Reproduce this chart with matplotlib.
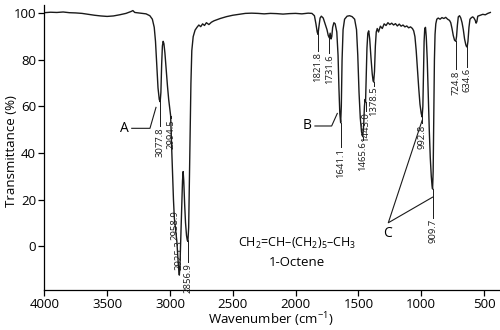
import numpy as np
import matplotlib
matplotlib.use("Agg")
import matplotlib.pyplot as plt

plt.rcParams['font.family'] = ['Open Sans', 'DejaVu Sans']
plt.rcParams['mathtext.fontset'] = 'custom'
plt.rcParams['mathtext.rm'] = 'Open Sans'
plt.rcParams['mathtext.it'] = 'Open Sans:italic'

# IR spectrum of 1-octene, (wavenumber cm-1, %T)
wavenumber = [
    4000, 3950, 3900, 3850, 3800, 3750, 3700, 3650, 3600, 3550, 3500, 3450,
    3400, 3350, 3310, 3295, 3280, 3250, 3220, 3190, 3160, 3140, 3125, 3115,
    3105, 3095, 3085, 3077.8, 3072, 3066, 3060, 3054, 3048, 3040, 3030, 3020,
    3010, 3000, 2994.5, 2988, 2980, 2972, 2965, 2958.9, 2952, 2945, 2938, 2932,
    2925.3, 2920, 2913, 2906, 2900, 2895, 2890, 2883, 2876, 2868, 2862, 2856.9,
    2851, 2846, 2840, 2833, 2826, 2815, 2800, 2785, 2770, 2755, 2740, 2725,
    2710, 2690, 2670, 2650, 2600, 2550, 2500, 2450, 2400, 2350, 2300, 2250,
    2200, 2150, 2100, 2050, 2000, 1950, 1900, 1870, 1850, 1838, 1828, 1821.8,
    1815, 1805, 1795, 1780, 1765, 1750, 1740, 1731.6, 1725, 1718, 1712, 1705,
    1695, 1685, 1672, 1662, 1655, 1648, 1641.1, 1636, 1630, 1622, 1610, 1590,
    1570, 1550, 1530, 1515, 1505, 1495, 1485, 1475, 1465.6, 1458, 1452, 1447,
    1443.0, 1438, 1432, 1425, 1418, 1410, 1400, 1390, 1383, 1378.5, 1372, 1365,
    1358, 1350, 1340, 1325, 1310, 1295, 1280, 1265, 1250, 1235, 1220, 1205,
    1190, 1175, 1160, 1145, 1130, 1115, 1100, 1085, 1070, 1060, 1050, 1040,
    1030, 1020, 1010, 1000, 992.8, 987, 982, 977, 972, 966, 960, 952,
    944, 936, 928, 920, 914, 909.7, 905, 900, 895, 890, 884, 876,
    865, 850, 835, 820, 805, 790, 775, 765, 755, 745, 735, 729,
    724.8, 719, 712, 705, 695, 685, 675, 665, 655, 645, 640, 634.6,
    628, 620, 612, 600, 590, 580, 570, 563, 557, 550, 530, 510,
    490, 470, 450,
]
transmittance = [
    100.3, 100.5, 100.4, 100.6, 100.3, 100.2, 100.0, 99.6, 99.2, 98.9, 98.7, 98.9,
    99.4, 100.0, 100.8, 101.2, 100.4, 100.2, 100.0, 99.8, 99.0, 97.5, 94.0, 88.0,
    78.0, 68.0, 63.0, 62.0, 66.0, 78.0, 86.0, 88.0, 87.0, 83.0, 76.0, 69.0,
    63.0, 58.5, 56.0, 45.0, 33.0, 20.0, 12.0, 9.0, 6.0, 2.0, -4.0, -9.0,
    -12.5, -8.0, 5.0, 18.0, 28.0, 32.0, 28.0, 18.0, 10.0, 4.5, 2.5, 2.0,
    8.0, 25.0, 48.0, 70.0, 84.0, 90.0, 92.8, 94.0, 95.0, 94.3, 95.5, 94.8,
    96.0, 95.2, 96.2, 96.8, 97.8, 98.6, 99.2, 99.6, 100.0, 100.1, 100.0, 99.8,
    100.0, 99.9, 99.7, 99.9, 100.0, 99.8, 100.1, 100.0, 99.0, 95.5, 92.0, 91.0,
    94.0, 98.0, 98.8, 98.0, 95.5, 93.0, 90.5, 89.5, 91.5, 89.0, 90.0, 94.0,
    96.0, 95.5, 92.0, 82.0, 68.0, 57.0, 53.0, 60.0, 80.0, 93.0, 97.5, 98.8,
    99.0, 98.6, 97.5, 93.0, 82.0, 66.0, 55.0, 49.0, 47.0, 52.0, 60.0, 63.0,
    62.0, 72.0, 85.0, 91.5, 92.5, 89.0, 81.0, 74.0, 71.0, 70.5, 75.0, 86.0,
    92.0, 93.5, 92.0, 94.5, 93.5, 95.5, 94.8, 96.0, 95.2, 95.8, 95.0, 95.6,
    94.6, 95.4, 94.5, 95.0, 94.2, 94.6, 93.8, 94.2, 93.5, 92.5, 90.0, 84.0,
    76.0, 68.0, 61.0, 57.0, 55.5, 60.0, 75.0, 88.0, 93.5, 94.0, 90.0, 80.0,
    65.0, 50.0, 38.0, 30.0, 26.0, 24.5, 32.0, 55.0, 80.0, 91.0, 95.5, 97.5,
    98.0, 97.5, 98.2, 97.8, 98.3, 97.5, 97.0, 96.0, 93.5, 90.5, 88.5, 88.2,
    88.0, 90.0, 95.0, 98.5, 99.0, 98.0, 96.0, 93.0, 89.0, 86.5, 85.8, 85.5,
    88.0, 94.0, 97.5, 98.2, 98.5, 98.0, 97.0, 95.8, 96.5, 98.8, 99.2, 99.6,
    99.4, 100.0, 100.4,
]

# labelled peaks and the %T where each label starts
peak_wn = [3077.8, 2994.5, 2958.9, 2925.3, 2856.9, 1821.8, 1731.6, 1641.1,
           1465.6, 1443.0, 1378.5, 992.8, 909.7, 724.8, 634.6]
label_top = [51.5, 55.0, 16.0, 3.0, -7.0, 84.0, 83.0, 42.5,
             45.5, 58.0, 69.0, 52.8, 12.0, 76.0, 77.0]

fig = plt.figure(figsize=(5, 3.3), dpi=100)
ax = fig.add_axes([0.0886, 0.1212, 0.9114, 0.8636])

ax.plot(wavenumber, transmittance, color='#1a1a1a', lw=1.0)

for wn, top in zip(peak_wn, label_top):
    t_min = np.interp(wn, wavenumber[::-1], transmittance[::-1])
    if t_min > top:
        ax.plot([wn, wn], [t_min, top], color='#1a1a1a', lw=0.7)
    ax.text(wn, top - 0.5, '%.1f' % wn, rotation=90, ha='center', va='top',
            fontsize=6.8, color='#1a1a1a')

# band assignments A, B, C
ax.plot([3304, 3159, 3111], [50.6, 50.6, 59.6], color='#1a1a1a', lw=0.8)
ax.text(3330, 50.6, 'A', ha='right', va='center', fontsize=10)
ax.plot([1846, 1713, 1668], [51.6, 51.6, 57.0], color='#1a1a1a', lw=0.8)
ax.text(1872, 51.6, 'B', ha='right', va='center', fontsize=10)
ax.plot([992.8, 1262, 909.7], [54.0, 10.0, 21.0], color='#1a1a1a', lw=0.8)
ax.text(1265, 8.5, 'C', ha='center', va='top', fontsize=10)

ax.text(1990, 1.3, r'CH$_{2}$=CH–(CH$_{2}$)$_{5}$–CH$_{3}$', ha='center',
        va='center', fontsize=9)
ax.text(1990, -6.9, '1-Octene', ha='center', va='center', fontsize=9.5)

ax.set_xlim(4000, 373)
ax.set_ylim(-18.9, 103.6)
ax.set_xticks([4000, 3500, 3000, 2500, 2000, 1500, 1000, 500])
ax.set_yticks([0, 20, 40, 60, 80, 100])
ax.spines['top'].set_visible(False)
ax.spines['right'].set_visible(False)
for s in ('left', 'bottom'):
    ax.spines[s].set_linewidth(0.9)
ax.tick_params(direction='out', length=4, width=0.9, labelsize=9.5, pad=2)

ax.set_ylabel('Transmittance (%)', fontsize=9.5)
ax.yaxis.set_label_coords(-0.058, 0.488)
ax.set_xlabel('Wavenumber (cm$^{-1}$)', fontsize=9.5)
ax.xaxis.set_label_coords(0.497, -0.07)

fig.savefig('out.png', dpi=100)
